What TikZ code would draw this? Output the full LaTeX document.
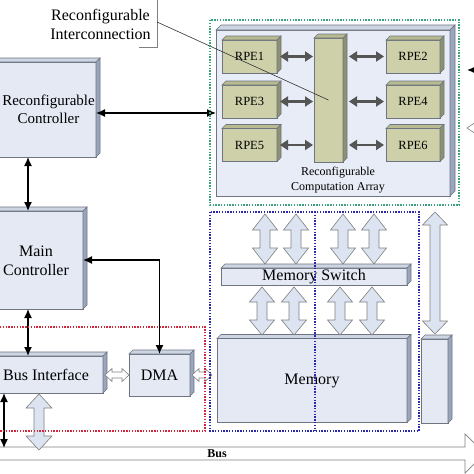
\documentclass[tikz,border=0pt]{standalone}
\usepackage{fontspec}
\setmainfont{Liberation Serif}
\usetikzlibrary{calc,arrows.meta}
\definecolor{boxfill}{HTML}{E4E9F4}
\definecolor{boxtop}{HTML}{CDD4E3}
\definecolor{boxside}{HTML}{9AA6BE}
\definecolor{edgecol}{HTML}{6E7480}
\definecolor{rcafill}{HTML}{E8ECF6}
\definecolor{rpefill}{HTML}{CDD0A8}
\definecolor{rpetop}{HTML}{B8BB90}
\definecolor{rpeside}{HTML}{8E9170}
\definecolor{arrowfill}{HTML}{DCE4F1}
\definecolor{greendot}{HTML}{3AA37A}
\definecolor{reddot}{HTML}{D0283C}
\definecolor{bluedot}{HTML}{2A2AA8}
\definecolor{rpearrow}{HTML}{555555}
\newcommand{\extrude}[4]{%
  \filldraw[fill=#3, draw=edgecol, line width=0.6pt] (#1.north west) -- ++(#2pt,#2pt) -- ($(#1.north east)+(#2pt,#2pt)$) -- (#1.north east) -- cycle;
  \filldraw[fill=#4, draw=edgecol, line width=0.6pt] (#1.north east) -- ++(#2pt,#2pt) -- ($(#1.south east)+(#2pt,#2pt)$) -- (#1.south east) -- cycle;}
% vertical hollow double arrow: x, ytop, ybot, half head, half shaft, head length
\newcommand{\vblock}[6]{%
  \filldraw[blockarrow] (#1,#2) -- (#1+#4,#2+#6) -- (#1+#5,#2+#6) -- (#1+#5,#3-#6) -- (#1+#4,#3-#6) -- (#1,#3) -- (#1-#4,#3-#6) -- (#1-#5,#3-#6) -- (#1-#5,#2+#6) -- (#1-#4,#2+#6) -- cycle;}
% horizontal hollow double arrow: x1, x2, y, half head, half shaft, head length
\newcommand{\hblock}[6]{%
  \filldraw[blockarrow, fill=white] (#1,#3) -- (#1+#6,#3-#4) -- (#1+#6,#3-#5) -- (#2-#6,#3-#5) -- (#2-#6,#3-#4) -- (#2,#3) -- (#2-#6,#3+#4) -- (#2-#6,#3+#5) -- (#1+#6,#3+#5) -- (#1+#6,#3+#4) -- cycle;}
\begin{document}
\begin{tikzpicture}[x=1pt,y=-1pt,
  face/.style={draw=edgecol, line width=0.6pt, fill=boxfill, outer sep=0pt, inner sep=0pt, align=center, font=\fontsize{16}{19}\selectfont},
  boxtext/.style={inner sep=0pt, align=center, font=\fontsize{16}{19}\selectfont},
  rpebox/.style={draw=edgecol, line width=0.6pt, fill=rpefill, outer sep=0pt, inner sep=0pt, align=center, font=\fontsize{12.5}{14}\selectfont, minimum width=55pt, minimum height=33pt},
  blockarrow/.style={draw=gray, line width=0.6pt, fill=arrowfill},
  blkarrow/.style={black, line width=1.4pt, arrows={Latex[length=9pt,width=8pt]-Latex[length=9pt,width=8pt]}},
  rpearr/.style={rpearrow, line width=2.8pt, arrows={Triangle[length=8pt,width=10pt]-Triangle[length=8pt,width=10pt]}},
  dotbox/.style={line width=1.3pt, dash pattern=on 1.4pt off 1.4pt}]
\useasboundingbox (0,0) rectangle (474,474);
\clip (0,0) rectangle (474,474);
\fill[white] (0,0) rectangle (474,474);

% label
\node[font=\fontsize{16}{19}\selectfont, align=center, inner sep=0pt] (ICL) at (100.5,24) {Reconfigurable\\Interconnection};
\coordinate (lblTop) at (157,0);
\coordinate (lblCorner) at (157,47);
\coordinate (lblBot) at (139,47);
\coordinate (lblR) at (157,22);
\draw[gray, line width=0.6pt] (lblTop) -- (lblCorner) -- (lblBot);

% controllers
\node[face, minimum width=126pt, minimum height=95pt] (RC) at (33,109.5) {};
\extrude{RC}{4}{boxtop}{boxside}
\node[boxtext, font=\fontsize{15}{18.5}\selectfont] (RCt) at (48.5,109.5) {Reconfigurable\\Controller};
\node[face, minimum width=113pt, minimum height=98pt] (MC) at (26.5,260) {};
\extrude{MC}{4}{boxtop}{boxside}
\node[boxtext] (MCt) at (36,260.5) {Main\\Controller};
\node[face, minimum width=133pt, minimum height=37pt] (BI) at (36.5,374.5) {};
\extrude{BI}{4}{boxtop}{boxside}
\node[boxtext] (BIt) at (46,375) {Bus Interface};
\node[face, minimum width=61pt, minimum height=42pt] (DMA) at (159.5,375) {DMA};
\extrude{DMA}{4}{boxtop}{boxside}

% RCA
\node[face, fill=rcafill, minimum width=234pt, minimum height=166pt] (RCA) at (333,113) {};
\extrude{RCA}{5}{boxtop}{boxside}
\node[font=\fontsize{12}{15}\selectfont, align=center, inner sep=0pt] (RCAL) at (338,180.5) {Reconfigurable\\Computation Array};
\node[rpebox] (RPE1) at (249.5,56.5) {RPE1};
\extrude{RPE1}{4}{rpetop}{rpeside}
\node[rpebox] (RPE3) at (249.5,101.5) {RPE3};
\extrude{RPE3}{4}{rpetop}{rpeside}
\node[rpebox] (RPE5) at (249.5,145) {RPE5};
\extrude{RPE5}{4}{rpetop}{rpeside}
\node[rpebox, minimum width=54pt] (RPE2) at (413,56.5) {RPE2};
\extrude{RPE2}{4}{rpetop}{rpeside}
\node[rpebox, minimum width=54pt] (RPE4) at (413,101.5) {RPE4};
\extrude{RPE4}{4}{rpetop}{rpeside}
\node[rpebox, minimum width=54pt] (RPE6) at (413,145) {RPE6};
\extrude{RPE6}{4}{rpetop}{rpeside}
\node[rpebox, minimum width=29pt, minimum height=124pt] (Bar) at (328.5,100) {};
\extrude{Bar}{4}{rpetop}{rpeside}
\foreach \l/\r in {RPE1/RPE2, RPE3/RPE4, RPE5/RPE6}{
  \draw[rpearr, shorten <=3pt, shorten >=1pt] (\l.east) -- (\l.east -| Bar.west);
  \draw[rpearr, shorten <=6pt, shorten >=2pt] (\r.west -| Bar.east) -- (\r.west);
}
\draw[gray!40!black, line width=0.6pt] (lblR) -- (Bar.center);

% memory side
\node[face, minimum width=186pt, minimum height=17pt] (MS) at (314,276.5) {Memory Switch};
\extrude{MS}{4}{boxtop}{boxside}
\node[face, minimum width=190pt, minimum height=84pt] (MEM) at (312,380.5) {Memory};
\extrude{MEM}{4}{boxtop}{boxside}
\node[face, minimum width=27pt, minimum height=84pt] (RB) at (434.5,381) {};
\extrude{RB}{4}{boxtop}{boxside}

\vblock{265}{214}{264}{12.5}{5}{16}
\vblock{296}{214}{264}{12.5}{5}{16}
\vblock{343}{214}{264}{12.5}{5}{16}
\vblock{374}{214}{264}{12.5}{5}{16}
\vblock{262}{287}{335}{12.5}{5}{15}
\vblock{294}{287}{335}{12.5}{5}{15}
\vblock{340}{287}{335}{12.5}{5}{15}
\vblock{372}{287}{335}{12.5}{5}{15}
\vblock{435}{212}{334}{12.5}{5}{13}

% bus
\filldraw[draw=gray, fill=white, line width=0.7pt] (-5,447) -- (465,447) -- (465,434) -- (485,453.5) -- (465,473) -- (465,460) -- (-5,460) -- cycle;
\node[font=\fontsize{12}{14}\selectfont\bfseries, inner sep=0pt] (BUS) at (217,454) {Bus};

% connectors
\coordinate (cx28) at (28,0);
\coordinate (y113) at (0,113);
\coordinate (cx4) at (4,0);
\coordinate (busTop) at (0,448);
\draw[blkarrow] (RC.east |- y113) -- (RCA.west |- y113);
\draw[blkarrow] (cx28 |- RC.south) -- (cx28 |- MC.north);
\draw[blkarrow] (cx28 |- MC.south) -- (cx28 |- BI.north);
\draw[blkarrow] (MC.east) -| (DMA.north);
\draw[blkarrow] (cx4 |- BI.south) -- (cx4 |- busTop);
\hblock{105}{129}{375}{6.5}{3}{7}
\hblock{192}{212}{375}{6.5}{3}{7}
\vblock{39}{394}{450}{13}{5}{14}

% right side incoming arrows
\coordinate (rin1) at (480,70);
\coordinate (rtip1) at (467,70);
\draw[black, line width=1.4pt, -{Latex[length=9pt,width=8pt]}] (rin1) -- (rtip1);
\filldraw[draw=gray, fill=white, line width=0.6pt] (476,122) -- (467,128) -- (476,134);

% dotted regions
\draw[dotbox, greendot] (210,20) rectangle (459,205);
\draw[dotbox, reddot] (-5,327) rectangle (205,431);
\draw[dotbox, bluedot] (210,212) rectangle (419,431);
\draw[dotbox, bluedot] (315,212) -- (315,431);
\end{tikzpicture}
\end{document}
